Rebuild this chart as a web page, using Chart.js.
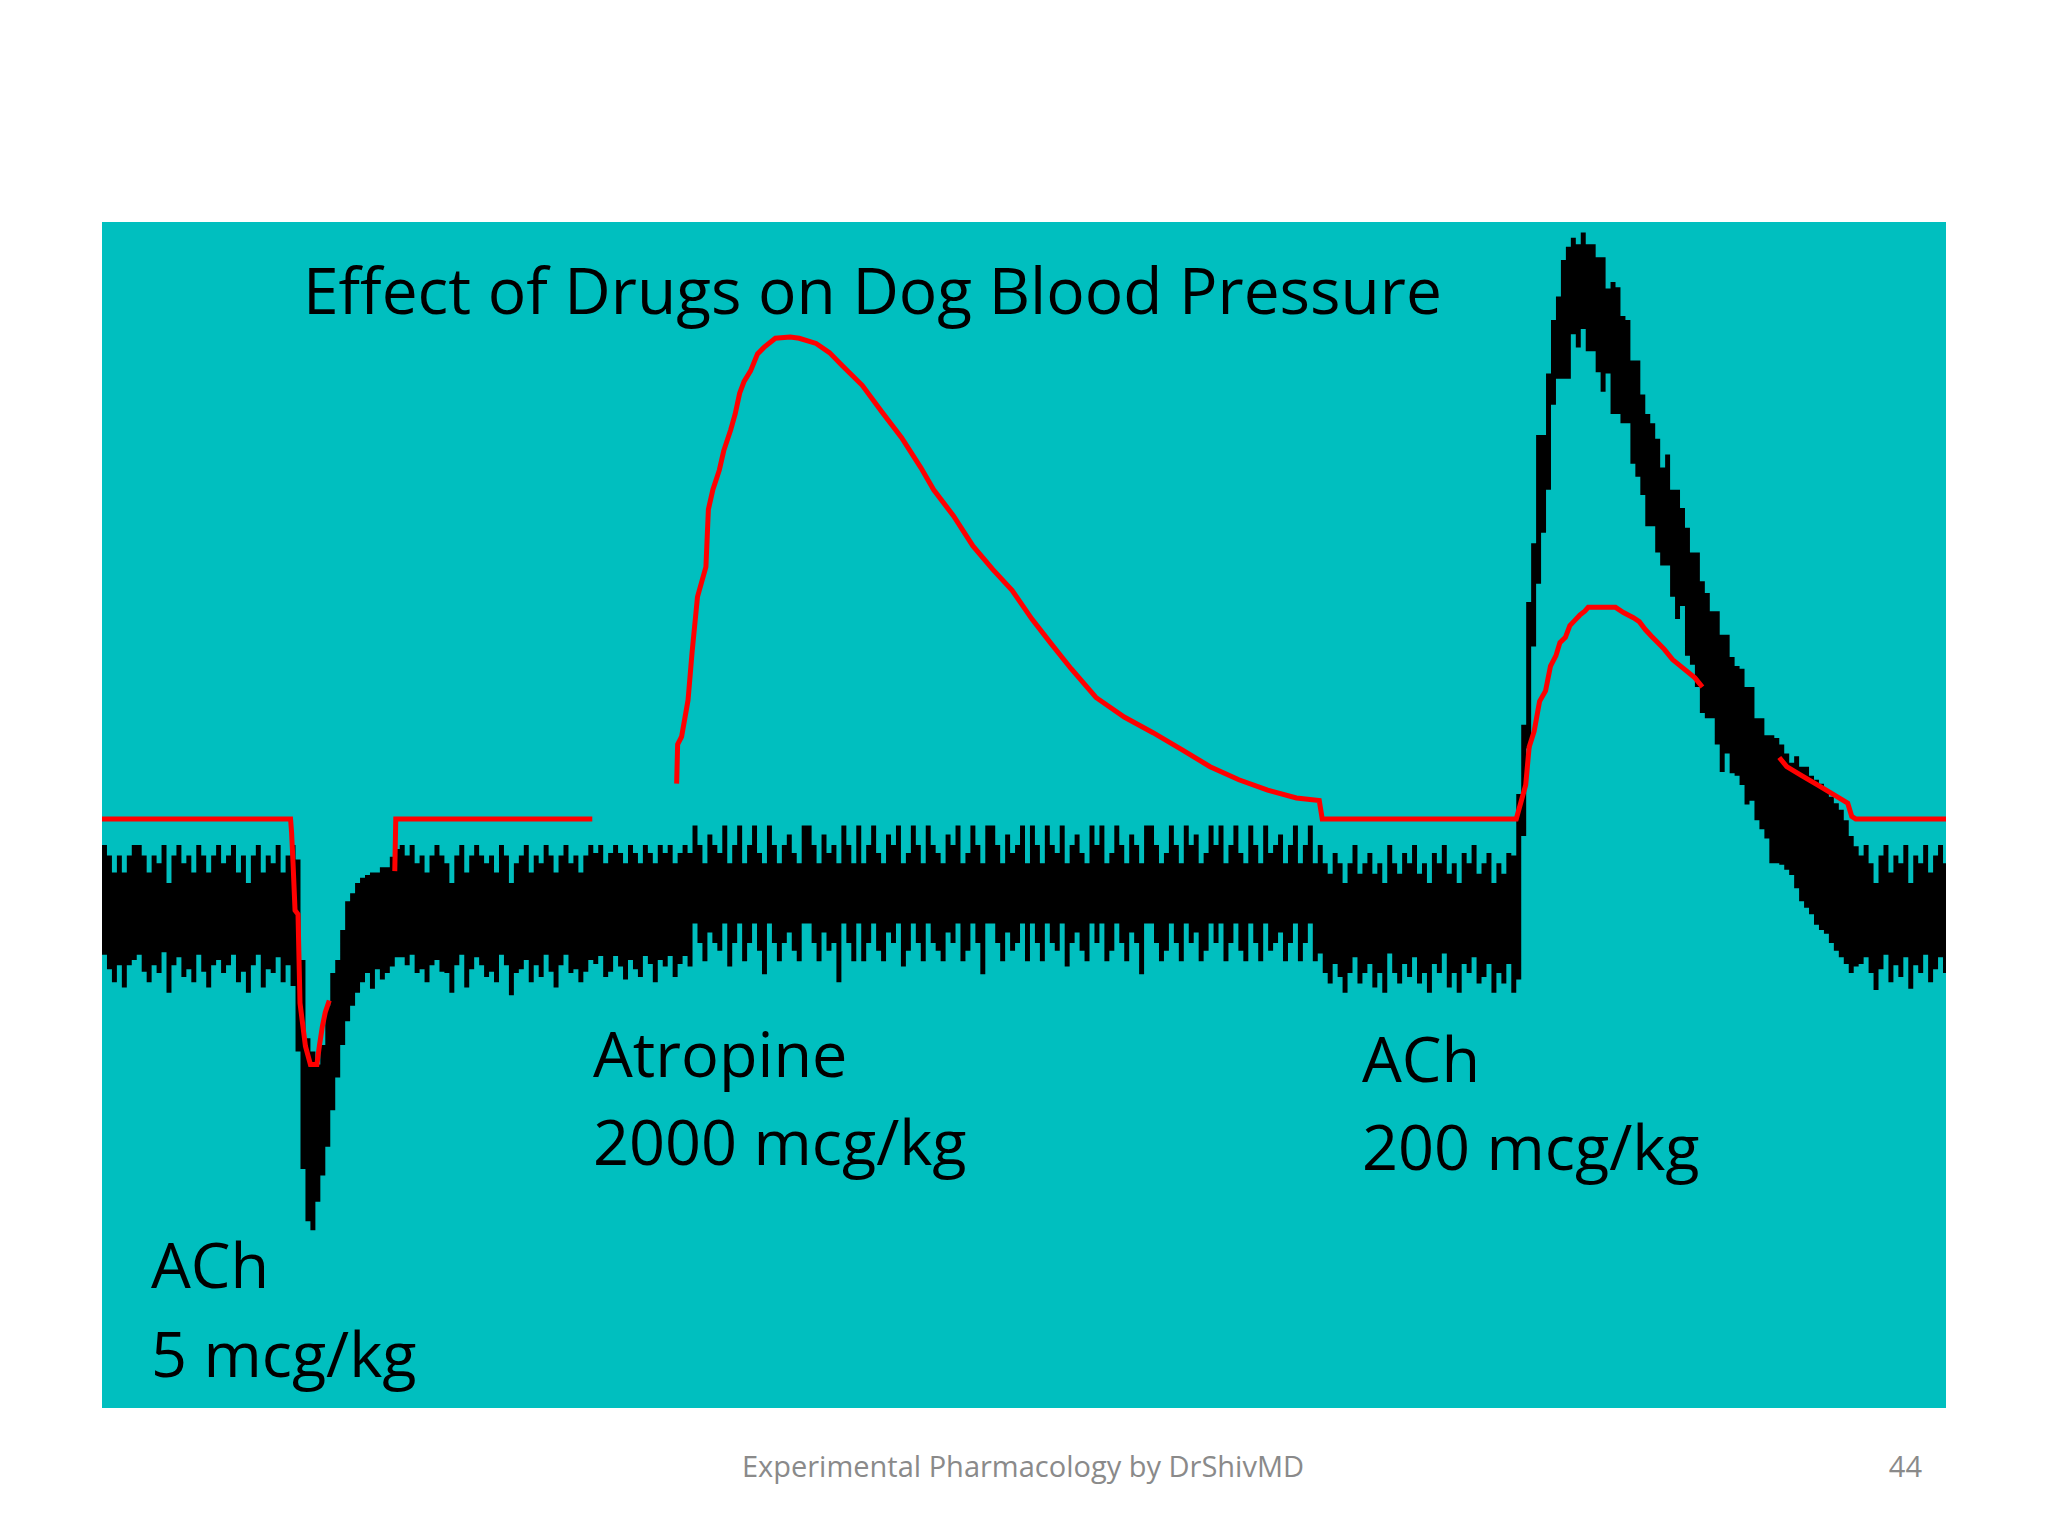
<!DOCTYPE html>
<html>
<head>
<meta charset="utf-8">
<title>Effect of Drugs on Dog Blood Pressure</title>
<script src="https://cdn.jsdelivr.net/npm/chart.js@4.4.1/dist/chart.umd.min.js"></script>
<style>
    html, body { margin: 0; padding: 0; background: #ffffff; }
    body { position: relative; width: 2048px; height: 1536px; overflow: hidden; font-family: "Open Sans", sans-serif; }
    #panel { position: absolute; left: 102px; top: 222px; width: 1844px; height: 1186px; background: #00bfbf; }
    .txt { position: absolute; white-space: nowrap; color: #000000; font-size: 63px; line-height: 63px; }
    .title { font-size: 64px; line-height: 64px; }
    .foot { color: #8a8a8a; font-size: 29px; line-height: 29px; }
</style>
</head>
<body>
<div id="panel"><canvas id="bpChart"></canvas></div>

<div class="txt title" style="left:303px; top:258px;">Effect of Drugs on Dog Blood Pressure</div>
<div class="txt" style="left:151px; top:1232px;">ACh</div>
<div class="txt" style="left:151px; top:1321px;">5 mcg/kg</div>
<div class="txt" style="left:593px; top:1021px;">Atropine</div>
<div class="txt" style="left:593px; top:1109px;">2000 mcg/kg</div>
<div class="txt" style="left:1362px; top:1026px;">ACh</div>
<div class="txt" style="left:1362px; top:1114px;">200 mcg/kg</div>
<div class="txt foot" style="left:0; width:2046px; text-align:center; top:1451px;">Experimental Pharmacology by DrShivMD</div>
<div class="txt foot" style="left:1860px; width:62px; text-align:right; top:1451px;">44</div>

<script>
// Black recorder trace, one value per sample column (index = time)
// upper edge of the pulse band
const systolic = [
    // baseline
    431,423,410,423,410,423,431,431,423,410,423,417,431,402,423,431,417,423,410,431,
    423,410,423,431,417,423,431,410,423,402,423,431,410,423,417,431,410,423,
    // ACh 5 mcg/kg
    431,420,343,283,273,263,278,308,333,343,366,388,394,402,406,408,410,410,414,414,422,428,
    // recovery
    431,423,431,417,423,410,423,431,423,417,402,423,431,410,423,431,423,417,423,410,
    431,423,402,417,423,431,410,423,417,431,423,410,423,431,417,423,410,423,431,
    // after atropine
    425,431,417,425,431,425,417,431,425,417,431,425,417,431,425,431,417,425,431,425,
    446,431,417,439,431,425,446,417,431,446,
    417,431,446,425,417,446,431,417,431,439,
    425,417,446,446,431,417,439,425,431,417,
    446,431,417,446,417,431,446,425,417,439,
    431,446,417,425,446,431,417,446,431,425,
    417,439,431,446,417,425,446,431,417,446,
    446,431,417,439,425,431,446,417,446,431,
    417,446,431,425,446,417,431,439,425,417,
    446,431,446,417,425,446,431,417,439,431,
    417,446,446,431,417,425,446,431,417,446,
    431,439,417,425,446,431,446,417,431,446,
    425,417,446,431,417,446,425,431,439,417,
    431,446,417,431,446,417,
    431,417,409,425,417,402,417,431,409,417,
    425,409,417,402,431,417,409,425,417,431,
    409,417,402,425,417,431,409,417,402,425,
    417,431,409,417,425,402,417,409,425,423,
    // ACh 200 mcg/kg
    470,523,617,662,745,745,792,833,851,879,
    889,896,891,900,891,891,881,881,857,862,
    858,836,833,802,802,776,761,754,742,720,
    730,703,703,689,674,655,655,633,624,610,
    610,592,592,575,568,566,552,552,528,528,
    515,515,513,508,501,494,499,491,491,484,
    481,478,473,468,463,458,450,438,430,
    // end baseline
    423,431,417,402,423,431,410,423,417,431,402,423,417,431,410,423,431,417
];

// lower edge of the pulse band
const diastolic = [
    347,336,326,339,322,339,343,347,334,326,339,333,349,318,339,345,330,336,326,347,
    334,322,339,343,333,339,347,326,334,318,339,347,322,336,333,345,326,339,
    323,273,183,143,136,158,178,200,228,253,278,296,308,318,326,333,321,336,328,333,338,345,
    345,339,347,333,336,326,339,343,334,333,318,339,347,322,336,345,339,330,334,326,
    347,339,316,333,336,343,326,339,330,347,334,322,339,347,333,336,326,334,343,
    340,346,330,334,346,338,328,343,336,330,346,340,326,343,338,346,330,340,346,338,
    371,356,342,364,356,350,371,338,356,371,
    342,356,371,350,332,371,356,342,356,364,
    350,342,371,371,356,342,364,350,356,326,
    371,356,342,371,342,356,371,350,342,364,
    356,371,338,350,371,356,342,371,356,350,
    342,364,356,371,342,350,371,356,332,371,
    371,356,342,364,350,356,371,342,371,356,
    342,371,356,350,371,338,356,364,350,342,
    371,356,371,342,350,371,356,342,364,356,
    332,371,371,356,342,350,371,356,342,371,
    356,364,342,350,371,356,371,342,356,371,
    350,342,371,356,342,371,350,356,364,342,
    356,371,342,356,371,342,
    348,333,325,340,330,318,333,345,325,333,
    340,322,333,318,348,333,325,340,330,345,
    325,333,318,340,333,348,322,333,318,340,
    333,345,325,330,340,318,333,325,340,318,
    328,438,505,583,631,670,703,768,788,788,
    788,822,812,826,809,809,793,778,792,761,
    761,754,754,723,713,699,675,675,655,645,
    645,621,604,614,576,569,552,532,528,528,
    508,487,501,486,484,477,462,465,450,443,
    436,417,417,416,412,408,398,388,383,378,
    370,366,363,356,350,345,340,333,338,
    340,345,333,320,336,347,326,339,330,345,321,339,333,347,326,336,345,333
];

// Red trace as [time, level]; null where it runs hidden under the black band
const redTrace = [
    [0, 451], [38.0, 451], [38.2, 441], [38.5, 417], [38.9, 381], [39.5, 378], [39.9, 310],
    [41.0, 277], [42.0, 263], [43.3, 263], [43.8, 277], [44.4, 292], [45.0, 303], [45.8, 312],
    [52, null], [59.0, 411], [59.2, 451], [98.8, 451], [107, null],
    [115.8, 478], [116.0, 508], [116.8, 514], [118.1, 542], [118.9, 578], [120.0, 621],
    [121.7, 644], [122.2, 688], [123.1, 703], [124.4, 718], [125.3, 733], [126.7, 749],
    [127.6, 761], [128.5, 777], [129.4, 786], [130.7, 794], [132.1, 807], [133.4, 812],
    [135.7, 819], [138.7, 820], [140.5, 819], [143.9, 815], [146.6, 808], [149.2, 798],
    [153.2, 783], [157.1, 763], [161.1, 743], [165.0, 720], [167.6, 703], [171.6, 683],
    [175.5, 660], [179.5, 642], [183.4, 626], [187.4, 604], [191.3, 585], [195.3, 566],
    [200.3, 544], [206.0, 529], [211.8, 517], [217.6, 504], [223.3, 491], [229.1, 481],
    [234.9, 473], [240.7, 467], [245.3, 465], [245.9, 451], [285.0, 451],
    [286.9, 477], [287.6, 506], [288.6, 518], [289.7, 541], [290.9, 549], [291.9, 568],
    [293.0, 576], [293.8, 586], [294.9, 590], [295.8, 599], [296.8, 603], [297.8, 607],
    [298.8, 610], [299.5, 613], [305.0, 613], [306.6, 609], [308.6, 605], [309.8, 602],
    [311.0, 596], [312.2, 591], [313.5, 586], [314.8, 581], [316.5, 573], [321.0, 559],
    [322.5, 552], [330, null], [338.0, 498], [339.5, 491], [342.6, 484], [345.7, 477],
    [348.8, 470], [351.8, 463], [352.6, 453], [353.4, 451], [371.6, 451]
];

const timeRange = [0, 371.6];
const levelRange = [0, 908];

document.addEventListener('DOMContentLoaded', function() {
    // step columns for the black band, closed with one extra point at the end
    const bandTop = systolic.map((v, i) => ({ x: i, y: v }));
    bandTop.push({ x: systolic.length, y: systolic[systolic.length - 1] });
    const bandBottom = diastolic.map((v, i) => ({ x: i, y: v }));
    bandBottom.push({ x: diastolic.length, y: diastolic[diastolic.length - 1] });

    const redPoints = redTrace.map(p => ({ x: p[0], y: p[1] }));

    const config = {
        type: 'line',
        data: {
            datasets: [{
                label: 'Red trace',
                data: redPoints,
                borderColor: '#ff0000',
                borderWidth: 5,
                pointRadius: 0,
                fill: false,
                spanGaps: false,
                tension: 0
            }, {
                label: 'Systolic',
                data: bandTop,
                stepped: true,
                borderWidth: 0,
                borderColor: '#000000',
                backgroundColor: '#000000',
                pointRadius: 0,
                fill: '+1'
            }, {
                label: 'Diastolic',
                data: bandBottom,
                stepped: true,
                borderWidth: 0,
                borderColor: '#000000',
                pointRadius: 0,
                fill: false
            }]
        },
        options: {
            responsive: true,
            maintainAspectRatio: false,
            animation: false,
            layout: { padding: 0 },
            plugins: {
                legend: { display: false },
                tooltip: { enabled: false }
            },
            scales: {
                x: { type: 'linear', min: timeRange[0], max: timeRange[1], display: false },
                y: { type: 'linear', min: levelRange[0], max: levelRange[1], display: false }
            }
        }
    };

    new Chart(document.getElementById('bpChart').getContext('2d'), config);
});
</script>
</body>
</html>
